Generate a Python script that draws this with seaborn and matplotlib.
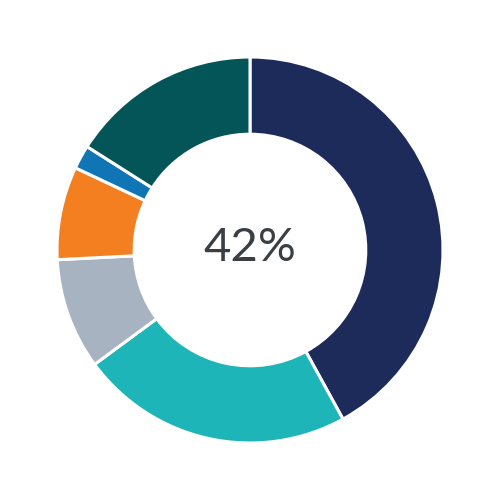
import matplotlib
matplotlib.use("Agg")
import matplotlib.pyplot as plt
import seaborn as sns

sns.set_theme(style="white")
plt.rcParams['font.family'] = ['Lato', 'DejaVu Sans']

labels = ["Navy", "Teal", "Gray", "Orange", "Blue", "Green"]
shares = [42.0, 22.9, 9.3, 7.8, 2.0, 16.0]
colors = ["#1d2b5b", "#1db5b8", "#a8b3c2", "#f47f20", "#0f75b4", "#045558"]
center_label = "42%"

fig = plt.figure(figsize=(5, 5), dpi=100)
ax = fig.add_axes([0, 0, 1, 1])
ax.pie(shares, colors=colors, startangle=90, counterclock=False,
       radius=1.0, wedgeprops=dict(width=0.40, edgecolor="white", linewidth=2.2))
ax.text(0, 0.01, center_label, ha="center", va="center", fontsize=34,
        fontweight="normal", color="#3a3f44")
lim = 250 / 193
ax.set_xlim(-lim, lim)
ax.set_ylim(-lim, lim)
ax.set_aspect("equal")
ax.axis("off")
fig.savefig("out.png", dpi=100, facecolor="white")
